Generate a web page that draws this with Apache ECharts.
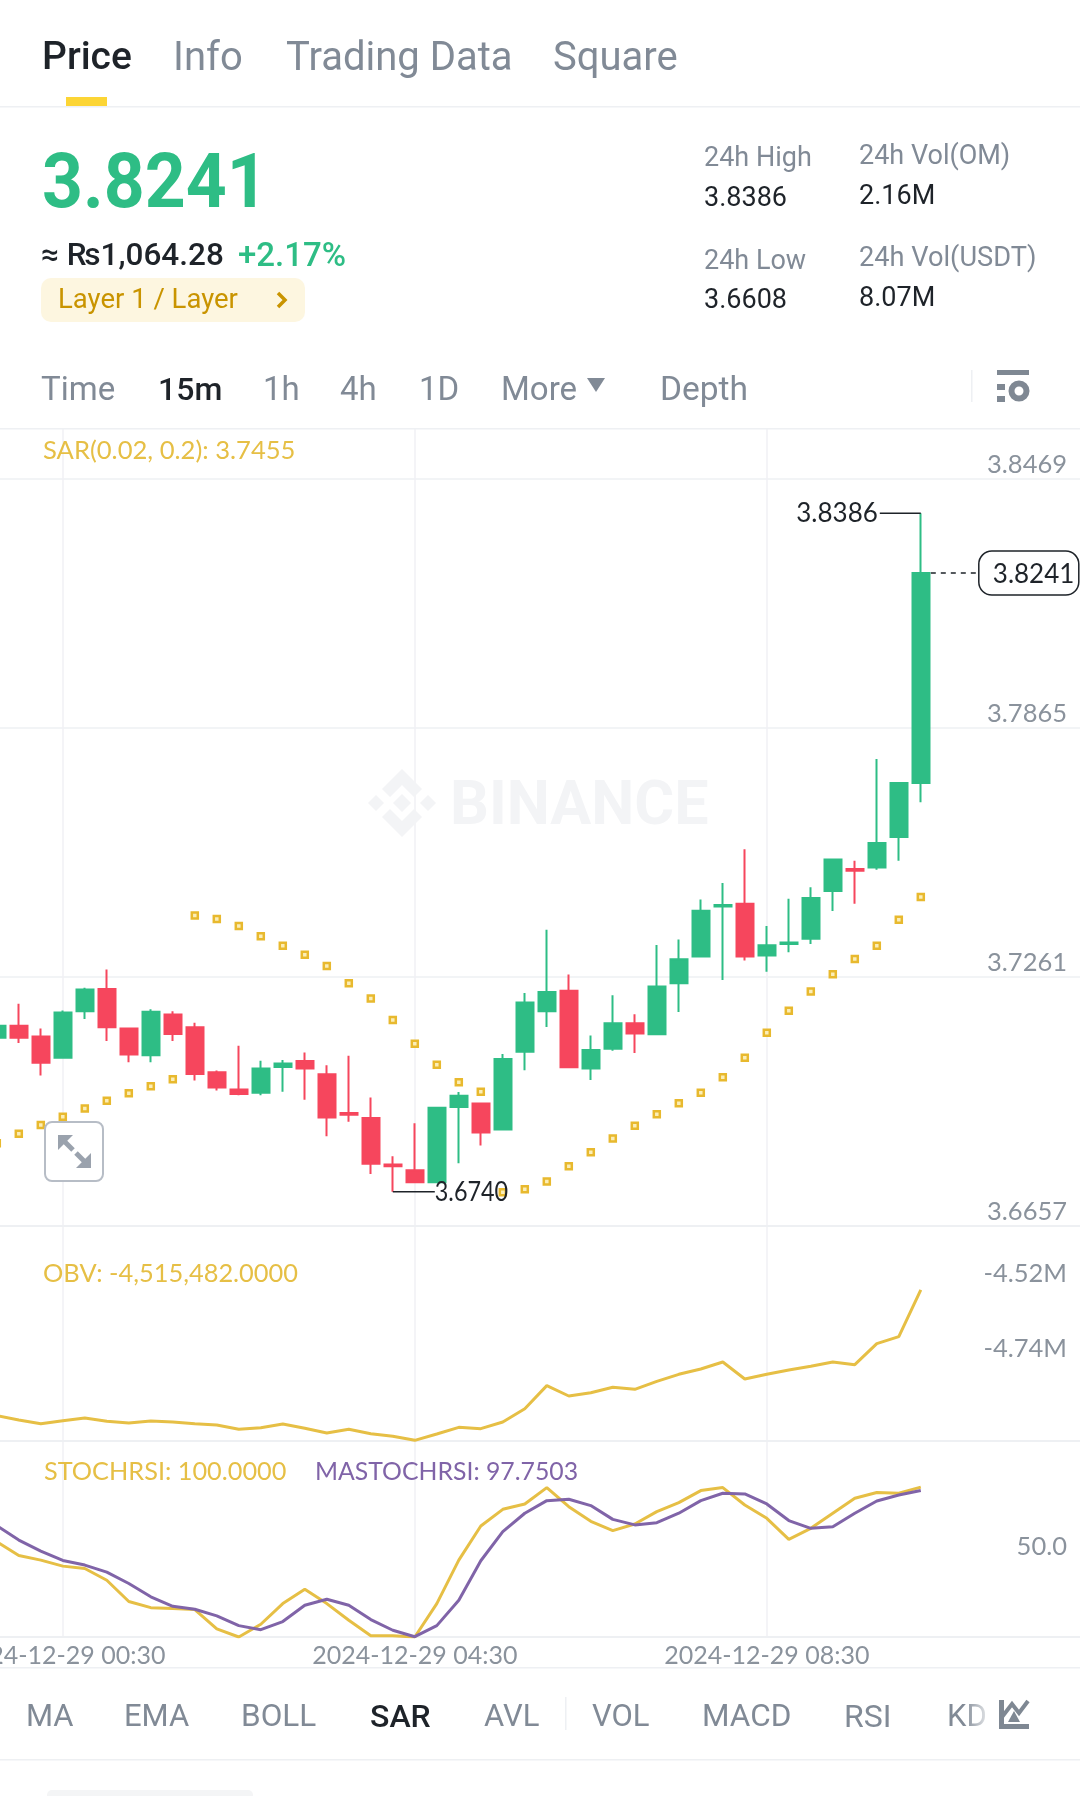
<![CDATA[<!DOCTYPE html>
<html><head><meta charset="utf-8">
<script src="https://cdn.jsdelivr.net/npm/echarts@6/dist/echarts.min.js"></script>
<style>html,body{margin:0;padding:0;background:#fff}#c{width:1080px;height:1796px}</style>
</head><body><div id="c"></div>
<script>
// ---------- data read from the picture ----------
const categories = ["23:45","00:00","00:15","00:30","00:45","01:00","01:15","01:30","01:45","02:00","02:15","02:30","02:45","03:00","03:15","03:30","03:45","04:00","04:15","04:30","04:45","05:00","05:15","05:30","05:45","06:00","06:15","06:30","06:45","07:00","07:15","07:30","07:45","08:00","08:15","08:30","08:45","09:00","09:15","09:30","09:45","10:00","10:15","10:30","10:45","11:00","11:15","11:30","11:45","12:00","12:15"];
const tickIndexes = [3, 19, 35];
const datePrefix = "2024-12-29 ";
// [open, close, low, high]
const candles = [
[3.7114,3.7143,3.7114,3.7143],[3.7143,3.7114,3.7101,3.7196],[3.7117,3.7053,3.7022,3.7136],[3.7065,3.7175,3.7065,3.7180],
[3.7178,3.7231,3.7159,3.7235],[3.7232,3.7139,3.7106,3.7279],[3.7136,3.7073,3.7054,3.7136],[3.7071,3.7177,3.7054,3.7183],
[3.7170,3.7123,3.7106,3.7178],[3.7139,3.7026,3.7010,3.7150],[3.7030,3.6993,3.6986,3.7034],[3.6988,3.6977,3.6974,3.7094],
[3.6980,3.7039,3.6974,3.7058],[3.7043,3.7051,3.6983,3.7060],[3.7057,3.7039,3.6963,3.7078],[3.7025,3.6920,3.6875,3.7047],
[3.6931,3.6927,3.6910,3.7070],[3.6919,3.6808,3.6783,3.6969],[3.6806,3.6802,3.6740,3.6826],[3.6792,3.6763,3.6763,3.6906],
[3.6763,3.6944,3.6763,3.6944],[3.6946,3.6973,3.6809,3.6982],[3.6954,3.6884,3.6852,3.6954],[3.6891,3.7062,3.6891,3.7074],
[3.7080,3.7199,3.7035,3.7222],[3.7178,3.7225,3.7140,3.7376],[3.7228,3.7042,3.7042,3.7267],[3.7039,3.7084,3.7011,3.7119],
[3.7087,3.7149,3.7082,3.7217],[3.7149,3.7124,3.7077,3.7171],[3.7122,3.7238,3.7122,3.7339],[3.7246,3.7304,3.7176,3.7352],
[3.7311,3.7422,3.7311,3.7449],[3.7432,3.7436,3.7254,3.7489],[3.7439,3.7311,3.7301,3.7571],[3.7313,3.7338,3.7274,3.7385],
[3.7341,3.7345,3.7321,3.7451],[3.7354,3.7453,3.7341,3.7479],[3.7470,3.7546,3.7421,3.7547],[3.7523,3.7519,3.7439,3.7543],
[3.7527,3.7586,3.7521,3.7790],[3.7601,3.7732,3.7543,3.7732],[3.7732,3.8241,3.7685,3.8386]];
const sar = [3.6858,3.6881,3.6902,3.6922,3.6942,3.6961,3.6979,3.6996,3.7013,3.7410,3.7402,3.7385,3.7360,3.7337,3.7315,3.7288,3.7246,3.7209,3.7157,3.7099,3.7048,3.7006,3.6983,3.6739,3.6746,3.6765,3.6802,3.6836,3.6869,3.6900,3.6928,3.6955,3.6980,3.7018,3.7065,3.7126,3.7179,3.7226,3.7268,3.7305,3.7337,3.7400,3.7455];
const obv = [-4884100,-4896800,-4907600,-4898800,-4890900,-4900700,-4905600,-4899700,-4902700,-4907600,-4911500,-4924200,-4919300,-4908500,-4921200,-4934900,-4924200,-4936900,-4944700,-4956400,-4937900,-4918300,-4922200,-4902700,-4863600,-4796100,-4826400,-4816700,-4801000,-4806900,-4783400,-4762900,-4747300,-4726700,-4776600,-4762900,-4750200,-4739400,-4726700,-4734500,-4673000,-4652400,-4515482];
const stochRsi = [63.6,54.4,51.3,47.3,45.7,37.9,23.7,19.6,19.0,18.3,5.4,0,8.5,22.3,31.9,22.3,11.2,0.9,0.9,0,22.3,51.3,74.1,85.2,88.8,99.7,87.0,77.2,71.0,75.4,83.7,89.7,97.7,99.7,88.1,79.2,65.2,72.5,82.6,92.6,96.4,95.9,100];
const maStochRsi = [74.3,64.7,57.3,51.1,48.0,43.3,35.7,26.8,20.5,18.5,14.1,7.6,4.9,10.3,21.2,25.2,21.2,11.6,4.5,0.2,7.6,24.5,50.9,70.3,82.6,91.0,91.9,87.7,78.5,74.8,76.3,82.6,91.0,95.9,95.5,88.8,77.7,72.5,73.6,82.6,90.8,94.8,97.75];
const priceTicks = [3.6657, 3.7261, 3.7865, 3.8469];
const obvTicks = [-4520000, -4740000];
const rsiTicks = [50];
const highPoint = [42, 3.8386];
const lowPoint = [18, 3.6740];
const lastPoint = [42, 3.8241];

// ---------- styling ----------
const F = 'Roboto, "Noto Sans", sans-serif';
const CF = 'Lato, Roboto, sans-serif';
const GREEN='#2ebd85', RED='#f6465d', DARK='#1e2329', GRAY='#818a96', LINE='#eef0f3', YEL='#e6bf45', PUR='#8064a8', AXG='#8a929c';

function T(x,y,text,size,color,weight,align,font,z,sx){const isC=font===CF;return {type:'text',x,y:y+(isC?1:3.5),z:z||5,silent:true,scaleX:sx||1,style:{text,font:`${weight||400} ${size}px ${font||F}`,fill:color,textAlign:align||'left',textVerticalAlign:'middle'}};}
function R(x,y,w,h,fill,r,extra){return Object.assign({type:'rect',silent:true,z:4,shape:{x,y,width:w,height:h,r:r||0},style:{fill}},extra||{});}
function P(points,fill,z){return {type:'polygon',silent:true,z:z||4,shape:{points},style:{fill}};}
function L(points,stroke,w,z){return {type:'polyline',silent:true,z:z||6,shape:{points},style:{stroke,lineWidth:w,fill:null}};}

const wm='#f3f4f6', cx=402, cy=803;
const mk=(a)=>a.map(p=>[cx+p[0],cy+p[1]]);
const graphics = [
  T(42,56,'Price',39,DARK,500), T(173,56,'Info',40,GRAY,400), T(286,56,'Trading Data',40,GRAY,400), T(553,56,'Square',40,GRAY,400),
  R(66,97,41,9,'#fcd535'), R(0,106,1080,1.5,LINE),
  T(42,184,'3.8241',76,GREEN,700,'left',F,5,0.94),
  T(41,254,'≈ ₨1,064.28',31.5,DARK,500), T(238,254,'+2.17%',33,GREEN,500),
  R(41,278,264,44,'#fdf6e0',10), T(58,298,'Layer 1 / Layer',27.5,'#c99400',400),
  L([[278,293],[285,300],[278,307]],'#c99400',3.5),
  T(704,156,'24h High',27,GRAY), T(704,196,'3.8386',27,DARK), T(859,154,'24h Vol(OM)',27,GRAY), T(859,194,'2.16M',27,DARK),
  T(704,259,'24h Low',27,GRAY), T(704,298,'3.6608',27,DARK), T(859,256,'24h Vol(USDT)',27.2,GRAY), T(859,296,'8.07M',27,DARK),
  T(41,388,'Time',33,GRAY), T(158,388,'15m',32,DARK,500), T(263,388,'1h',33,GRAY), T(340,388,'4h',33,GRAY), T(419,388,'1D',33,GRAY), T(501,388,'More',33,GRAY),
  P([[587,378],[605,378],[596,392]],GRAY), T(660,388,'Depth',33.5,GRAY),
  R(971,370,1.5,32,LINE),
  R(997,370,32,5,'#7f8893'), R(997,384,8,6,'#7f8893'), R(997,396,8,6,'#7f8893'),
  {type:'circle',silent:true,z:5,shape:{cx:1019,cy:391,r:7.5},style:{fill:'#fff',stroke:'#7f8893',lineWidth:6}},
  R(0,428,1080,1.5,LINE),
  T(43,450,'SAR(0.02, 0.2): 3.7455',25.6,YEL,400,'left',CF),
  T(43,1273,'OBV: -4,515,482.0000',25.4,YEL,400,'left',CF),
  T(44,1471,'STOCHRSI: 100.0000',25.3,YEL,400,'left',CF),
  T(315,1471,'MASTOCHRSI: 97.7503',24.8,PUR,400,'left',CF),
  // watermark
  P(mk([[0,-34],[20,-14],[12,-6],[0,-18],[-12,-6],[-20,-14]]),wm,0), P(mk([[0,34],[20,14],[12,6],[0,18],[-12,6],[-20,14]]),wm,0),
  P(mk([[-34,0],[-26,-8],[-18,0],[-26,8]]),wm,0), P(mk([[34,0],[26,-8],[18,0],[26,8]]),wm,0), P(mk([[0,-9],[9,0],[0,9],[-9,0]]),wm,0),
  T(450,805,'BINANCE',61,wm,700,'left',F,0),
  // expand button
  R(45,1122,58,59,'#fff',7,{z:20,style:{fill:'#fff',stroke:'#b7bdc6',lineWidth:2}}),
  P([[58,1135],[73,1135],[58,1150]],'#9aa2ad',21), P([[91,1168],[76,1168],[91,1153]],'#9aa2ad',21),
  L([[62,1139],[73,1150]],'#9aa2ad',5,21), L([[87,1164],[76,1153]],'#9aa2ad',5,21),
  // bottom bar
  R(0,1667,1080,1.5,LINE), R(0,1759,1080,1.5,LINE),
  T(26,1715,'MA',31,GRAY), T(124,1715,'EMA',31,GRAY), T(241,1715,'BOLL',31.5,GRAY), T(370,1715,'SAR',32,DARK,500), T(484,1715,'AVL',31,GRAY),
  R(565,1697,1.5,33,LINE),
  T(592,1715,'VOL',31,GRAY), T(702,1715,'MACD',31.5,GRAY), T(844,1715,'RSI',32,GRAY), T(947,1715,'KD',31,GRAY),
  {type:'rect',silent:true,z:7,shape:{x:964,y:1695,width:30,height:40},style:{fill:{type:'linear',x:0,y:0,x2:1,y2:0,colorStops:[{offset:0,color:'rgba(255,255,255,0)'},{offset:1,color:'rgba(255,255,255,1)'}]}}},
  R(994,1695,40,40,'#fff',0,{z:7}),
  R(999,1700,5,29,'#7f8893',0,{z:8}), R(999,1724,30,5,'#7f8893',0,{z:8}),
  L([[1002,1717],[1012,1704],[1019,1713],[1028,1701]],'#7f8893',4,8), P([[1008,1722],[1014,1711],[1020,1722]],'#7f8893',8),
  R(47,1790,206,10,'#f4f5f6',8),
];

// one bar every 22 px, first bar just off the left edge
const sub={left:-3.2,width:1100,outerBoundsMode:'none',containLabel:false};
const tickFn=(i)=>tickIndexes.includes(i);
function xAxis(gridIndex,showLabels){return {type:'category',gridIndex,data:categories,boundaryGap:false,
  axisLine:{show:true,lineStyle:{color:LINE,width:2}},axisTick:{show:false},
  axisLabel:{show:showLabels,interval:tickFn,hideOverlap:false,margin:6,color:AXG,fontFamily:CF,fontSize:25,formatter:(v)=>datePrefix+v},
  splitLine:{show:true,interval:tickFn,lineStyle:{color:'#f0f1f4',width:1.5}}};}
function yAxis(gridIndex,min,max,ticks,fmt,split,pad){return {type:'value',gridIndex,position:'right',min,max,
  axisLine:{show:false},axisTick:{show:false,customValues:ticks},
  splitLine:{show:split,lineStyle:{color:LINE,width:1.5}},
  axisLabel:{inside:true,margin:29.8,color:AXG,fontFamily:CF,fontSize:25.5,verticalAlign:'bottom',padding:[0,0,pad,0],customValues:ticks,formatter:fmt,showMinLabel:true,showMaxLabel:true}};}

const annotation = {type:'custom',xAxisIndex:0,yAxisIndex:0,z:8,clip:false,silent:true,
  data:[[highPoint[0],highPoint[1],0],[lowPoint[0],lowPoint[1],1],[lastPoint[0],lastPoint[1],2]],
  encode:{x:0,y:1},
  renderItem(params,api){
    const p=api.coord([api.value(0),api.value(1)]), kind=api.value(2), txt=api.value(1).toFixed(4);
    const font=`400 26px ${CF}`;
    if(kind===0) return {type:'group',children:[
      {type:'line',shape:{x1:p[0]-41,y1:p[1],x2:p[0],y2:p[1]},style:{stroke:DARK,lineWidth:1.5}},
      {type:'text',x:p[0]-43,y:p[1],style:{text:txt,font,fill:DARK,textAlign:'right',textVerticalAlign:'middle'}}]};
    if(kind===1) return {type:'group',children:[
      {type:'line',shape:{x1:p[0],y1:p[1],x2:p[0]+42,y2:p[1]},style:{stroke:DARK,lineWidth:1.5}},
      {type:'text',x:p[0]+42,y:p[1]+1,scaleX:0.9,style:{text:txt,font,fill:DARK,textAlign:'left',textVerticalAlign:'middle'}}]};
    return {type:'group',children:[
      {type:'line',shape:{x1:p[0]+10,y1:p[1],x2:p[0]+58,y2:p[1]},style:{stroke:DARK,lineWidth:1.5,lineDash:[5,5]}},
      {type:'rect',shape:{x:p[0]+58,y:p[1]-22,width:100,height:44,r:13},style:{fill:'#fff',stroke:DARK,lineWidth:1.5}},
      {type:'text',x:p[0]+72,y:p[1]+2,style:{text:txt,font,fill:DARK,textAlign:'left',textVerticalAlign:'middle'}}]};
  }};

const option = {
  animation:false, backgroundColor:'#fff', textStyle:{fontFamily:CF},
  grid:[
    Object.assign({top:428,height:798},sub),
    Object.assign({top:1226,height:214.7},sub),
    Object.assign({top:1440.7,height:196.3},sub)],
  xAxis:[xAxis(0,false),xAxis(1,false),xAxis(2,true)],
  yAxis:[
    yAxis(0,3.6657,3.8593,priceTicks,(v)=>v.toFixed(4),true,1),
    yAxis(1,-4957500,-4328000,obvTicks,(v)=>(v/1e6).toFixed(2)+'M',false,5),
    yAxis(2,0,131,rsiTicks,(v)=>v.toFixed(1),false,2)],
  graphic:{elements:graphics},
  series:[
    {type:'candlestick',xAxisIndex:0,yAxisIndex:0,data:candles,barWidth:17.5,z:3,
      itemStyle:{color:GREEN,color0:RED,borderColor:GREEN,borderColor0:RED,borderWidth:2}},
    {type:'scatter',xAxisIndex:0,yAxisIndex:0,data:sar.map((v,i)=>[i,v]),symbol:'rect',symbolSize:6,z:4,
      itemStyle:{color:'#fbeeb8',borderColor:'#e8b92e',borderWidth:2.5,opacity:1}},
    annotation,
    {type:'line',xAxisIndex:1,yAxisIndex:1,data:obv,showSymbol:false,z:3,lineStyle:{color:YEL,width:3}},
    {type:'line',xAxisIndex:2,yAxisIndex:2,data:stochRsi,showSymbol:false,z:3,lineStyle:{color:YEL,width:3}},
    {type:'line',xAxisIndex:2,yAxisIndex:2,data:maStochRsi,showSymbol:false,z:4,lineStyle:{color:PUR,width:3}},
  ]
};
const chart = echarts.init(document.getElementById('c'));
chart.setOption(option);
</script></body></html>]]>
